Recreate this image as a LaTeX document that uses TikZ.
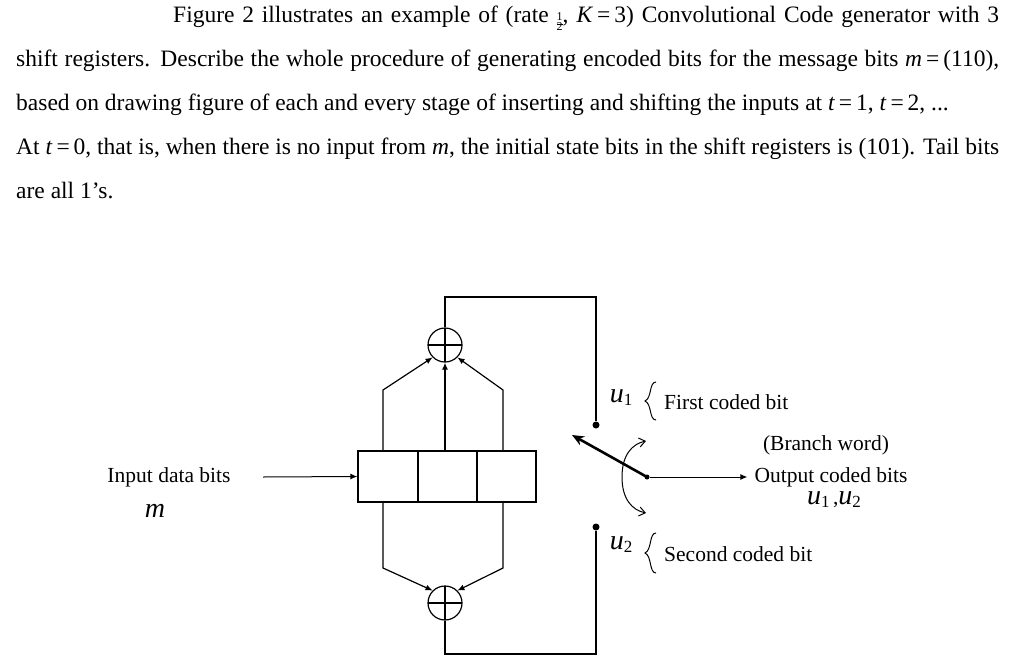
\documentclass[tikz,border=0pt]{standalone}
\usepackage{fontspec}
\setmainfont{Liberation Serif}
\usetikzlibrary{arrows.meta}
\newcommand{\uvar}[1]{{\fontsize{28}{28}\selectfont\itshape u}\raisebox{-3pt}{\fontsize{17}{17}\selectfont #1}}
\newcommand{\vv}[1]{\textit{#1}}
\newcommand{\half}{\raisebox{-0.35ex}{\fontsize{12}{12}\selectfont\begin{tabular}{@{}c@{}}1\\[-5pt]\rule[3pt]{6pt}{0.6pt}\\[-9pt]2\end{tabular}}}
\begin{document}
\begin{tikzpicture}[x=1pt,y=-1pt,
  ln/.style={line width=1.2pt},
  arr/.style={ln,-{Latex[length=7pt,width=6pt]}},
  lbl/.style={font=\fontsize{21.5}{24}\selectfont,inner sep=0pt},
  adder/.style={circle,draw,line width=1.2pt,minimum size=34pt,inner sep=0pt,
     path picture={\draw[line width=1.2pt] (path picture bounding box.north)--(path picture bounding box.south) (path picture bounding box.west)--(path picture bounding box.east);}},
  dot/.style={circle,fill,minimum size=7pt,inner sep=0pt},
  barb/.style={line width=1pt,-{Straight Barb[length=6pt,width=9pt]}}]
\useasboundingbox (0,0) rectangle (1024,669);
\node[anchor=north west,inner sep=0pt,text width=983pt,align=justify,font=\fontsize{23.5}{44}\selectfont] (para) at (16,6)
{\hspace*{157pt}Figure 2 illustrates an example of (rate \half, \vv{K}\,=\,3) Convolutional Code generator with 3 shift registers. Describe the whole procedure of generating encoded bits for the message bits \vv{m}\,=\,(110), based on drawing figure of each and every stage of inserting and shifting the inputs at \vv{t}\,=\,1, \vv{t}\,=\,2, ...\\
At \vv{t}\,=\,0, that is, when there is no input from \vv{m}, the initial state bits in the shift registers is (101). Tail bits are all 1's.};
% register
\node[draw,ln,minimum width=60pt,minimum height=51pt,inner sep=0pt] (r1) at (388,476.5) {};
\node[draw,ln,minimum width=59pt,minimum height=51pt,inner sep=0pt] (r2) at (447.5,476.5) {};
\node[draw,ln,minimum width=59pt,minimum height=51pt,inner sep=0pt] (r3) at (506.5,476.5) {};
\node[adder] (a1) at (445,345) {};
\node[adder] (a2) at (445,603) {};
\coordinate (t1) at (383,390); \coordinate (t3) at (503,390);
\coordinate (b1) at (383,568); \coordinate (b3) at (503,568);
\draw[arr] (r1.north -| t1) -- (t1) -- (a1.south west);
\draw[arr] (r3.north -| t3) -- (t3) -- (a1.south east);
\draw[arr] (r2.north -| a1) -- (a1.south);
\draw[arr] (r1.south -| b1) -- (b1) -- (a2.north west);
\draw[arr] (r3.south -| b3) -- (b3) -- (a2.north east);
\node[dot] (d1) at (596,425) {};
\node[dot] (d2) at (596,527) {};
\coordinate (c1) at (445,297); \coordinate (c2) at (596,297);
\coordinate (c3) at (445,654); \coordinate (c4) at (596,654);
\draw[ln] (a1.north) -- (c1) -- (c2) -- (d1);
\draw[ln] (a2.south) -- (c3) -- (c4) -- (d2);
% switch
\node[circle,fill,minimum size=5pt,inner sep=0pt] (p) at (647,477) {};
\coordinate (sw) at (572,435);
\draw[line width=2.6pt,-{Stealth[length=12pt,width=10pt]}] (p.center) -- (sw);
\coordinate (cm) at (622,477); \coordinate (ca) at (646,441); \coordinate (cb) at (646,513);
\draw[barb] (cm) .. controls (622,455) and (632,444) .. (ca);
\draw[barb] (cm) .. controls (622,499) and (632,510) .. (cb);
\node[lbl] (out) at (831,477) {Output coded bits};
\draw[arr,line width=1pt,shorten >=7pt] (p) -- (out.west);
\node[lbl] (bw) at (826,445) {(Branch word)};
\node[lbl] (uu) at (834,500) {\uvar{1}\,,\uvar{2}};
\node[lbl] (in) at (169,477) {Input data bits};
\node[lbl] (m) at (155,511) {\fontsize{28}{28}\selectfont\itshape m};
\draw[arr,line width=1pt] (263,477) coordinate (ia) -- (r1.west);
\node[lbl] (u1) at (621,398) {\uvar{1}};
\node[lbl] (u2) at (621,545) {\uvar{2}};
\draw[line width=1pt] (656,382) .. controls (649,382) and (652,398) .. (645,401) .. controls (652,404) and (649,420) .. (656,420);
\draw[line width=1pt] (656,533) .. controls (649,533) and (652,550) .. (645,553) .. controls (652,556) and (649,573) .. (656,573);
\node[lbl,anchor=west] (f1) at (664,402) {First coded bit};
\node[lbl,anchor=west] (f2) at (664,554) {Second coded bit};
\end{tikzpicture}
\end{document}
